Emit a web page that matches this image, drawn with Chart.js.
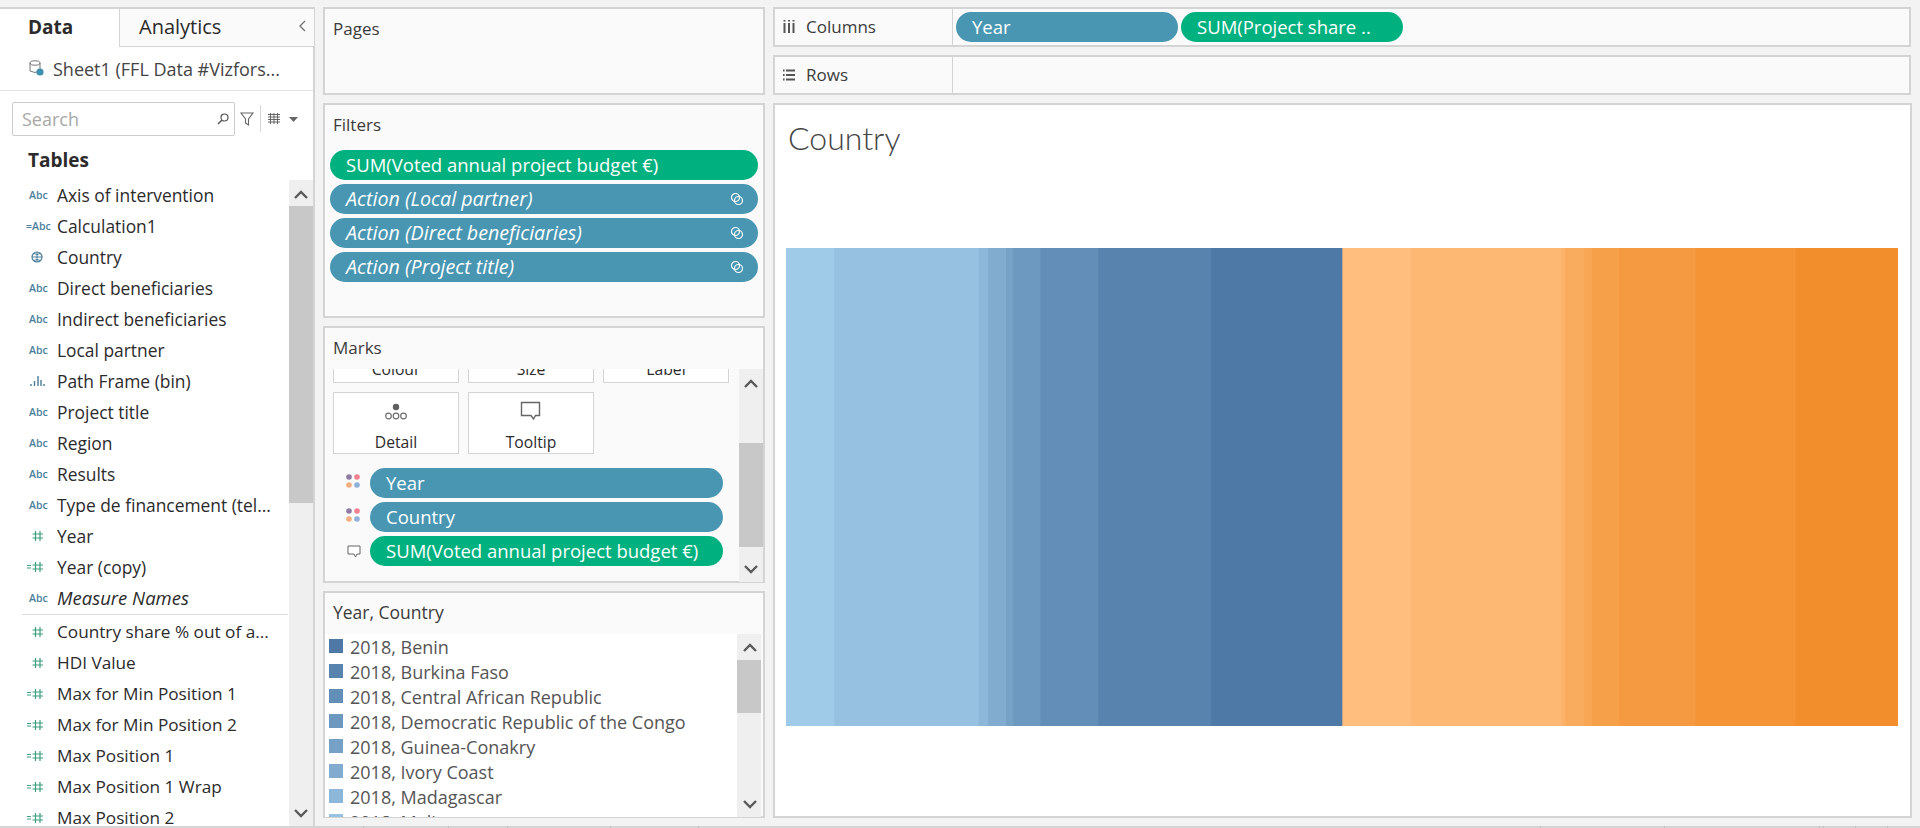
<!DOCTYPE html>
<html>
<head>
<meta charset="utf-8">
<title>Country</title>
<script src="https://cdn.jsdelivr.net/npm/chart.js@4"></script>
<style>
  html, body { margin: 0; padding: 0; width: 1920px; height: 828px; overflow: hidden; background: #f3f3f3; }
  body { font-family: "Open Sans", sans-serif; font-size: 17px; color: #2b2b2b; position: relative; }
  .box { position: absolute; box-sizing: border-box; border: 2px solid #d4d4d4; background: #fafafa; }
  .t { position: absolute; white-space: nowrap; line-height: 24px; height: 24px; }
  .pill { position: absolute; box-sizing: border-box; height: 30px; line-height: 29px; border-radius: 15px; color: #fff; padding-left: 16px; white-space: nowrap; font-size: 18.5px; }
  .blue { background: #4996b2; }
  .green { background: #00b180; }
  .sb { position: absolute; background: #efefef; }
  .thumb { position: absolute; background: #c8c8c8; }
  .clip { position: absolute; overflow: hidden; }
  svg { position: absolute; overflow: visible; }
  #chartWrap { position: absolute; left: 786px; top: 248px; width: 1112px; height: 478px; z-index: 1; }
</style>
</head>
<body>
<div id="chartWrap"><canvas id="shareChart"></canvas></div>
<script>
// legend order, as in the Year, Country card
const countries = ["Benin", "Burkina Faso", "Central African Republic", "Democratic Republic of the Congo", "Guinea-Conakry", "Ivory Coast", "Madagascar", "Mali", "Last country"];
const years = ["2018", "2019"];
const share2018 = [23.6, 20.3, 10.4, 4.9, 1.3, 3.2, 1.7, 26.0, 8.6];
const share2019 = [18.5, 18.0, 13.7, 4.9, 1.4, 3.4, 0.7, 27.0, 12.4];
const colours2018 = ["#4e79a7", "#5883af", "#638eb7", "#6d98bf", "#77a2c8", "#81acd0", "#8cb7d8", "#96c1e0", "#a0cbe8"];
const colours2019 = ["#f28e2b", "#f49435", "#f59a40", "#f7a04a", "#f9a654", "#faac5e", "#fcb269", "#fdb873", "#ffbe7d"];

const fieldsDims = ["Axis of intervention", "Calculation1", "Country", "Direct beneficiaries", "Indirect beneficiaries", "Local partner", "Path Frame (bin)", "Project title", "Region", "Results", "Type de financement (tel...", "Year", "Year (copy)", "Measure Names"];
const fieldIcons = ["Abc", "=Abc", "globe", "Abc", "Abc", "Abc", "bin", "Abc", "Abc", "Abc", "Abc", "#", "=#", "Abc"];
const fieldsMeasures = ["Country share % out of a...", "HDI Value", "Max for Min Position 1", "Max for Min Position 2", "Max Position 1", "Max Position 1 Wrap", "Max Position 2"];
const measureIcons = ["#", "#", "=#", "=#", "=#", "=#", "=#"];
const filterPills = ["Action (Local partner)", "Action (Direct beneficiaries)", "Action (Project title)"];

function el(cls, left, top, w, h, text, parent) {
  const d = document.createElement("div");
  d.className = cls;
  d.style.left = left + "px";
  d.style.top = top + "px";
  if (w != null) d.style.width = w + "px";
  if (h != null) d.style.height = h + "px";
  if (text != null) d.textContent = text;
  (parent || document.body).appendChild(d);
  return d;
}

function label(text, left, midY, size, colour, parent) {
  const d = el("t", left, midY - 12, null, null, text, parent);
  if (size) d.style.fontSize = size + "px";
  if (colour) d.style.color = colour;
  return d;
}

function rule(left, top, w, h, colour) {
  const d = el("", left, top, w, h);
  d.style.position = "absolute";
  d.style.background = colour;
  return d;
}

function svgAt(left, top, w, h, inner, parent) {
  const d = document.createElement("div");
  d.style.cssText = "position:absolute;left:" + left + "px;top:" + top + "px;width:" + w + "px;height:" + h + "px";
  d.innerHTML = '<svg width="' + w + '" height="' + h + '" viewBox="0 0 ' + w + " " + h + '">' + inner + "</svg>";
  (parent || document.body).appendChild(d);
}

function chevron(cx, cy, up, parent) {
  const pts = up ? [cx - 6, cy + 3, cx, cy - 3, cx + 6, cy + 3] : [cx - 6, cy - 3, cx, cy + 3, cx + 6, cy - 3];
  svgAt(0, 0, 1920, 828, '<polyline points="' + pts.join(" ") + '" fill="none" stroke="#5a5a5a" stroke-width="2.4"/>', parent);
}

function linkIcon(cx, cy) {
  svgAt(cx - 7, cy - 7, 14, 14, '<circle cx="5.5" cy="5.5" r="4" fill="none" stroke="#fff" stroke-width="1.2"/><circle cx="8.5" cy="8.5" r="4" fill="none" stroke="#fff" stroke-width="1.2"/>');
}

function colourDots(cx, cy) {
  svgAt(cx - 8, cy - 8, 16, 16, '<circle cx="3" cy="3" r="2.8" fill="#8e7ba3"/><circle cx="11" cy="3" r="2.8" fill="#f0808f"/><circle cx="3" cy="11" r="2.8" fill="#f2ad7e"/><circle cx="11" cy="11" r="2.8" fill="#8fb0d8"/>');
}

function fieldIcon(kind, cy) {
  const blue = "#4a7f9c", green = "#3f9e7f";
  if (kind === "Abc" || kind === "=Abc") {
    const d = label(kind, kind === "Abc" ? 29 : 26, cy, 10.5, blue);
    d.style.fontWeight = "600";
  } else if (kind === "#" || kind === "=#") {
    svgAt(32, cy - 6, 12, 12, '<path d="M3.5 1V11M8 1V11M0.5 4H11M0.5 8H11" stroke="' + green + '" stroke-width="1.2"/>');
    if (kind === "=#") svgAt(27, cy - 3, 5, 6, '<path d="M0 1.5H4M0 4H4" stroke="' + green + '" stroke-width="1.1"/>');
  } else if (kind === "globe") {
    svgAt(31, cy - 6, 12, 12, '<circle cx="6" cy="6" r="5" fill="none" stroke="' + blue + '" stroke-width="1.2"/><path d="M1 6H11M6 1V11M3 2.5Q6 4.5 9 2.5M3 9.5Q6 7.5 9 9.5" fill="none" stroke="' + blue + '"/>');
  } else {
    svgAt(30, cy - 6, 15, 12, '<path d="M1 11V9M4.5 11V6M8 11V1M11 11V5M14 11V9" stroke="' + blue + '" stroke-width="1.4"/>');
  }
}

function buildSidebar() {
  const side = el("box", 0, 7, 315, 819);
  side.style.background = "#fff";
  side.style.borderLeft = "none";
  side.style.borderBottom = "none";
  const tab = rule(119, 9, 194, 37, "#fafafa");
  tab.style.borderLeft = "1px solid #d4d4d4";
  tab.style.borderBottom = "1px solid #d4d4d4";
  label("Data", 28, 27, 19).style.fontWeight = "700";
  label("Analytics", 139, 27, 20);
  svgAt(297, 20, 10, 12, '<polyline points="8,1 3,6 8,11" fill="none" stroke="#777" stroke-width="1.4"/>');
  svgAt(28, 60, 15, 16, '<ellipse cx="7" cy="3" rx="5" ry="2.2" fill="none" stroke="#777"/><path d="M2 3V11Q7 14 12 11V3" fill="none" stroke="#777"/><circle cx="12" cy="12" r="3.6" fill="#3f8fb0"/>');
  label("Sheet1 (FFL Data #Vizfors...", 53, 69, 18, "#444");
  rule(0, 90, 313, 1, "#e3e3e3");
  const search = el("", 12, 102, 223, 34);
  search.style.cssText += ";position:absolute;box-sizing:border-box;border:1px solid #ccc;border-radius:2px;background:#fff";
  label("Search", 22, 119, 18, "#a8a8a8");
  svgAt(217, 113, 12, 12, '<circle cx="7.5" cy="4.5" r="3.5" fill="none" stroke="#555" stroke-width="1.2"/><path d="M5 7L1 11" stroke="#555" stroke-width="1.4"/>');
  svgAt(240, 112, 14, 14, '<path d="M1 1H13L8.5 7V13L5.5 11V7Z" fill="none" stroke="#666" stroke-width="1.1"/>');
  rule(260, 105, 1, 27, "#d8d8d8");
  svgAt(268, 113, 12, 11, '<path d="M0 1.5H12M0 4H12M0 6.5H12M0 9H12M2.5 0V11M6 0V11M9.5 0V11" stroke="#666" stroke-width="1"/>');
  svgAt(289, 117, 9, 5, '<path d="M0 0H9L4.5 5Z" fill="#666"/>');
  label("Tables", 28, 160, 19).style.fontWeight = "700";

  fieldsDims.forEach((name, i) => {
    const cy = 195 + i * 31;
    fieldIcon(fieldIcons[i], cy);
    const d = label(name, 57, cy, 17.4);
    if (name === "Measure Names") {
      d.style.fontStyle = "italic";
      d.style.fontSize = "18.5px";
    }
  });
  rule(22, 614, 266, 1, "#dcdcdc");
  fieldsMeasures.forEach((name, i) => {
    const cy = 632 + i * 31;
    fieldIcon(measureIcons[i], cy);
    label(name, 57, cy, 17.2);
  });
  el("sb", 289, 180, 24, 646);
  el("thumb", 289, 206, 24, 297);
  chevron(301, 195, true);
  chevron(301, 813, false);
}

function buildMiddle() {
  el("box", 323, 7, 442, 88);
  label("Pages", 333, 29, 17, "#3c3c3c");
  el("box", 323, 103, 442, 215);
  label("Filters", 333, 125, 17, "#3c3c3c");
  el("pill green", 330, 150, 428, null, "SUM(Voted annual project budget €)");
  filterPills.forEach((name, i) => {
    const p = el("pill blue", 330, 184 + i * 34, 428, null, name);
    p.style.fontStyle = "italic";
    p.style.fontSize = "19.7px";
    linkIcon(737, 199 + i * 34);
  });

  el("box", 323, 326, 442, 257);
  label("Marks", 333, 348, 17, "#3c3c3c");
  const shelf = el("clip", 325, 369, 412, 212);
  ["Colour", "Size", "Label"].forEach((name, i) => {
    const b = el("box", 8 + i * 135, -24, 126, 38, null, shelf);
    b.style.background = "#fff";
    b.style.border = "1px solid #d4d4d4";
    const t = label(name, 8 + i * 135, 0, 15.7, null, shelf);
    t.style.width = "126px";
    t.style.textAlign = "center";
  });
  ["Detail", "Tooltip"].forEach((name, i) => {
    const b = el("box", 8 + i * 135, 23, 126, 62, null, shelf);
    b.style.background = "#fff";
    b.style.border = "1px solid #d4d4d4";
    const t = label(name, 8 + i * 135, 73, 15.7, null, shelf);
    t.style.width = "126px";
    t.style.textAlign = "center";
  });
  svgAt(59, 33, 26, 20, '<circle cx="12" cy="5" r="3.2" fill="#5f5f5f"/><g fill="none" stroke="#6f6f6f" stroke-width="1.2"><circle cx="4.5" cy="14" r="2.8"/><circle cx="12" cy="14" r="2.8"/><circle cx="19.5" cy="14" r="2.8"/></g>', shelf);
  svgAt(195, 32, 22, 20, '<path d="M1.5 1.5H19.5V14.5H15.5L13.5 18L11 14.5H1.5Z" fill="none" stroke="#666" stroke-width="1.4"/>', shelf);

  el("pill blue", 370, 468, 353, null, "Year");
  el("pill blue", 370, 502, 353, null, "Country");
  el("pill green", 370, 536, 353, null, "SUM(Voted annual project budget €)");
  colourDots(354, 482);
  colourDots(354, 516);
  svgAt(347, 545, 15, 13, '<path d="M1 1H13V9H10L8.5 12L7 9H1Z" fill="#fff" stroke="#666" stroke-width="1"/>');
  el("sb", 739, 369, 24, 213);
  el("thumb", 739, 443, 24, 104);
  chevron(751, 384, true);
  chevron(751, 569, false);

  el("box", 323, 591, 442, 227);
  label("Year, Country", 333, 612, 17.5, "#3c3c3c");
  const list = el("clip", 325, 634, 413, 183);
  list.style.background = "#fff";
  countries.slice(0, 8).forEach((name, i) => {
    const sq = el("", 4, 5 + i * 25, 14, 14, null, list);
    sq.style.position = "absolute";
    sq.style.background = colours2018[i];
    label(years[0] + ", " + name, 25, 13 + i * 25, 18, "#555", list);
  });
  el("sb", 737, 634, 24, 183);
  el("thumb", 737, 660, 24, 53);
  chevron(750, 648, true);
  chevron(750, 804, false);
}

function buildRight() {
  el("box", 773, 7, 1138, 40);
  el("box", 773, 55, 1138, 40);
  rule(952, 8, 1, 38, "#d4d4d4");
  rule(952, 56, 1, 38, "#d4d4d4");
  svgAt(783, 20, 12, 13, '<path d="M1.5 3V13M6 3V13M10.5 3V13" stroke="#555" stroke-width="2"/><path d="M1.5 0V1.5M6 0V1.5M10.5 0V1.5" stroke="#555" stroke-width="2"/>');
  label("Columns", 806, 27, 17, "#3c3c3c");
  svgAt(783, 69, 12, 12, '<path d="M3 1.5H12M3 6H12M3 10.5H12M0 1.5H1.6M0 6H1.6M0 10.5H1.6" stroke="#555" stroke-width="1.8"/>');
  label("Rows", 806, 75, 17, "#3c3c3c");
  el("pill blue", 956, 12, 222, null, "Year");
  el("pill green", 1181, 12, 222, null, "SUM(Project share ..");
  const view = el("box", 773, 103, 1139, 715);
  view.style.background = "#fff";
  const title = label("Country", 788, 140, 32, "#444");
  title.style.fontFamily = "Lato, sans-serif";
  title.style.fontWeight = "300";
  title.style.lineHeight = "40px";
  title.style.height = "40px";
  title.style.top = "118px";
}

function buildBottomStrip() {
  rule(0, 826, 1920, 2, "#d4d4d4");
  [363, 448, 507, 610, 698, 1540, 1664, 1819, 1823, 1855, 1887].forEach((x) => rule(x, 826, 1, 2, "#bdbdbd"));
}

buildSidebar();
buildMiddle();
buildRight();
buildBottomStrip();

// stacks run lightest first, so walk the legend order backwards for each year
const datasets = [];
[[share2018, colours2018, years[0]], [share2019, colours2019, years[1]]].forEach(([shares, colours, year]) => {
  for (let i = shares.length - 1; i >= 0; i--) {
    datasets.push({
      label: year + ", " + countries[i],
      data: [shares[i]],
      backgroundColor: colours[i],
      borderWidth: 0,
      barPercentage: 1,
      categoryPercentage: 1,
    });
  }
});

new Chart(document.getElementById("shareChart"), {
  type: "bar",
  data: { labels: ["Project share"], datasets: datasets },
  options: {
    indexAxis: "y",
    responsive: true,
    maintainAspectRatio: false,
    animation: false,
    layout: { padding: 0 },
    plugins: { legend: { display: false }, title: { display: false }, tooltip: { enabled: false } },
    scales: {
      x: { stacked: true, display: false, min: 0, max: 200 },
      y: { stacked: true, display: false },
    },
  },
});
</script>
</body>
</html>
